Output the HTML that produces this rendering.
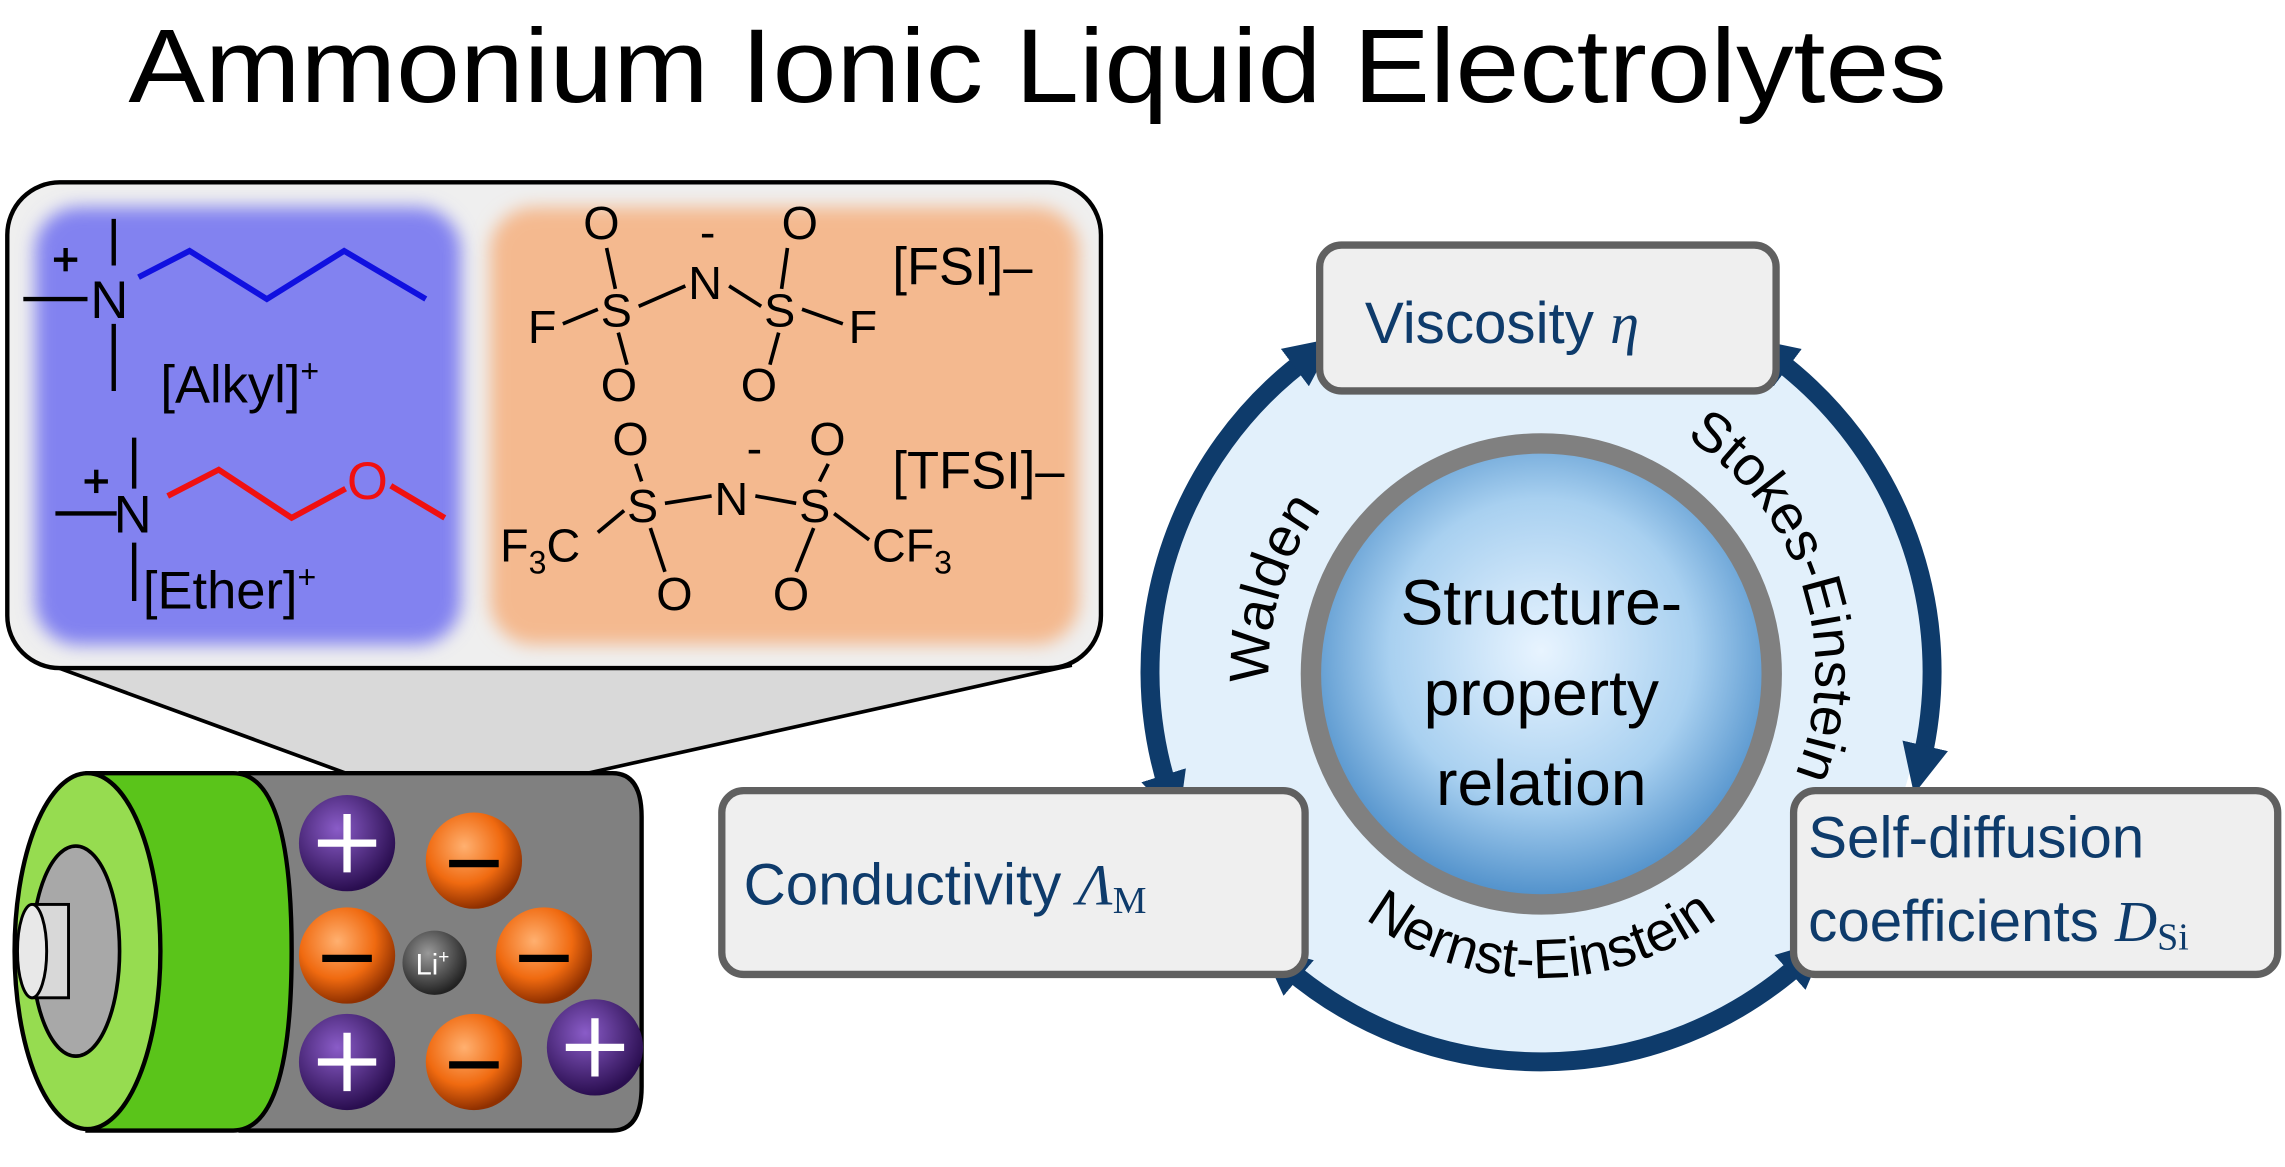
<!DOCTYPE html>
<html><head><meta charset="utf-8"><style>html,body{margin:0;padding:0;background:#fff;}svg{display:block}</style></head>
<body>
<svg width="2285" height="1167" viewBox="0 0 1567 800" preserveAspectRatio="none" xmlns="http://www.w3.org/2000/svg" font-family="'Liberation Sans', sans-serif">
<defs>
<filter id="bl" x="-10%" y="-10%" width="120%" height="120%"><feGaussianBlur stdDeviation="6"/></filter>
<radialGradient id="core" cx="50%" cy="45%" r="55%"><stop offset="0" stop-color="#e8f4ff"/><stop offset="0.6" stop-color="#a8d0f0"/><stop offset="1" stop-color="#4a8cc8"/></radialGradient>
<radialGradient id="pur" cx="40%" cy="35%" r="65%"><stop offset="0" stop-color="#8a5cc8"/><stop offset="1" stop-color="#2a0e50"/></radialGradient>
<radialGradient id="org" cx="40%" cy="35%" r="65%"><stop offset="0" stop-color="#ffb070"/><stop offset="0.6" stop-color="#f06a10"/><stop offset="1" stop-color="#903000"/></radialGradient>
<radialGradient id="li" cx="40%" cy="35%" r="65%"><stop offset="0" stop-color="#999"/><stop offset="1" stop-color="#222"/></radialGradient>
<marker id="ah" markerWidth="36" markerHeight="36" refX="10" refY="18" orient="auto-start-reverse" markerUnits="userSpaceOnUse"><path d="M0,2 L34,18 L0,34 z" fill="#0e3b6b"/></marker>
<path id="pw" d="M920.6,588.2 A188,188 0 0 1 1014.7,276.9"/>
<path id="ps" d="M1096.1,276.1 A188,188 0 0 1 1196.7,585.8"/>
<path id="pn" d="M879.5,562.5 A200,200 0 0 0 1234.5,562.5"/>
</defs>
<text x="88" y="70" font-size="72" fill="#000" textLength="1247" lengthAdjust="spacingAndGlyphs">Ammonium Ionic Liquid Electrolytes</text>

<polygon points="35,456 735,456 300,553" fill="#d9d9d9" stroke="#000" stroke-width="2.5"/>
<rect x="5" y="125" width="750" height="333" rx="36" fill="#efefef" stroke="#000" stroke-width="3"/>
<rect x="24" y="142" width="292" height="300" rx="30" fill="#8282f0" filter="url(#bl)"/>
<rect x="336" y="142" width="404" height="300" rx="30" fill="#f4b98f" filter="url(#bl)"/>

<g stroke="#000" stroke-width="3" fill="none">
<line x1="78" y1="150" x2="78" y2="182"/><line x1="16" y1="205" x2="60" y2="205"/><line x1="78" y1="222" x2="78" y2="268"/>
<line x1="37" y1="178" x2="53" y2="178"/><line x1="45" y1="170" x2="45" y2="186"/>
<line x1="92" y1="300" x2="92" y2="335"/><line x1="38" y1="352" x2="80" y2="352"/><line x1="92" y1="372" x2="92" y2="412"/>
<line x1="58" y1="330" x2="74" y2="330"/><line x1="66" y1="322" x2="66" y2="338"/>
</g>
<polyline points="95,190 130,172 183,205 236,172 292,205" stroke="#1010e0" stroke-width="4" fill="none"/>
<polyline points="115,340 150,322 200,355 237,335" stroke="#f01010" stroke-width="4" fill="none"/>
<polyline points="268,333 305,355" stroke="#f01010" stroke-width="4" fill="none"/>
<g font-size="36" fill="#000">
<text x="62" y="218">N</text><text x="78" y="365">N</text>
<text x="238" y="342" fill="#f01010">O</text>
<text x="110" y="276">[Alkyl]<tspan font-size="22" dy="-14">+</tspan></text>
<text x="98" y="417">[Ether]<tspan font-size="22" dy="-14">+</tspan></text>
</g>

<g font-size="32" fill="#000">
<text x="400" y="164">O</text><text x="412" y="224">S</text><text x="412" y="275">O</text><text x="362" y="235">F</text>
<text x="472" y="205">N</text><text x="480" y="170">-</text>
<text x="536" y="164">O</text><text x="524" y="224">S</text><text x="508" y="275">O</text><text x="582" y="235">F</text>
<text x="612" y="195" font-size="36">[FSI]–</text>
<text x="420" y="312">O</text><text x="430" y="358">S</text><text x="450" y="418">O</text><text x="343" y="385">F<tspan font-size="22" dy="8">3</tspan><tspan dy="-8">C</tspan></text>
<text x="490" y="353">N</text><text x="512" y="318">-</text>
<text x="555" y="312">O</text><text x="548" y="358">S</text><text x="530" y="418">O</text><text x="598" y="385">CF<tspan font-size="22" dy="8">3</tspan></text>
<text x="612" y="335" font-size="36">[TFSI]–</text>
</g>
<g stroke="#000" stroke-width="2.5">
<line x1="386" y1="222" x2="410" y2="212"/><line x1="438" y1="210" x2="470" y2="196"/><line x1="500" y1="196" x2="522" y2="210"/><line x1="550" y1="212" x2="578" y2="222"/>
<line x1="416" y1="170" x2="422" y2="198"/><line x1="424" y1="228" x2="430" y2="250"/><line x1="540" y1="170" x2="536" y2="198"/><line x1="534" y1="228" x2="528" y2="250"/>
<line x1="410" y1="365" x2="428" y2="350"/><line x1="456" y1="345" x2="488" y2="340"/><line x1="518" y1="340" x2="546" y2="345"/><line x1="572" y1="352" x2="596" y2="370"/>
<line x1="436" y1="318" x2="440" y2="330"/><line x1="446" y1="362" x2="456" y2="392"/><line x1="568" y1="318" x2="562" y2="330"/><line x1="558" y1="362" x2="546" y2="392"/>
</g>

<path d="M165,530 L420,530 Q440,530 440,560 L440,745 Q440,775 420,775 L165,775 Z" fill="#808080" stroke="#000" stroke-width="3"/>
<path d="M60,530 L160,530 Q200,530 200,652 Q200,775 160,775 L60,775 Z" fill="#5ac41a" stroke="#000" stroke-width="3"/>
<ellipse cx="60" cy="652" rx="50" ry="122" fill="#96dc50" stroke="#000" stroke-width="3"/>
<ellipse cx="52" cy="652" rx="30" ry="72" fill="#a8a8a8" stroke="#000" stroke-width="2.5"/>
<rect x="22" y="620" width="25" height="64" fill="#d8d8d8" stroke="#000" stroke-width="2"/>
<ellipse cx="22" cy="652" rx="10" ry="32" fill="#e8e8e8" stroke="#000" stroke-width="2"/>
<g stroke-width="5" stroke="#fff">
<circle cx="238" cy="578" r="33" fill="url(#pur)" stroke="none"/><path d="M218,578h40M238,558v40"/>
<circle cx="238" cy="728" r="33" fill="url(#pur)" stroke="none"/><path d="M218,728h40M238,708v40"/>
<circle cx="408" cy="718" r="33" fill="url(#pur)" stroke="none"/><path d="M388,718h40M408,698v40"/>
</g>
<g stroke-width="5" stroke="#000">
<circle cx="325" cy="590" r="33" fill="url(#org)" stroke="none"/><path d="M308,592h34"/>
<circle cx="238" cy="655" r="33" fill="url(#org)" stroke="none"/><path d="M221,657h34"/>
<circle cx="373" cy="655" r="33" fill="url(#org)" stroke="none"/><path d="M356,657h34"/>
<circle cx="325" cy="728" r="33" fill="url(#org)" stroke="none"/><path d="M308,730h34"/>
</g>
<circle cx="298" cy="660" r="22" fill="url(#li)"/>
<text x="285" y="668" font-size="20" fill="#fff">Li<tspan font-size="13" dy="-8">+</tspan></text>

<circle cx="1057" cy="460" r="262" fill="#e2f0fb"/>
<circle cx="1057" cy="462" r="158" fill="url(#core)" stroke="#808080" stroke-width="14"/>
<g font-size="44" fill="#000" text-anchor="middle">
<text x="1057" y="428">Structure-</text><text x="1057" y="490">property</text><text x="1057" y="552">relation</text>
</g>
<g stroke="#0e3b6b" stroke-width="13" fill="none" marker-end="url(#ah)" marker-start="url(#ah)">
<path d="M896,246 A268,268 0 0 0 801,541"/>
<path d="M1218,246 A268,268 0 0 1 1318,521"/>
<path d="M883,664 A268,268 0 0 0 1235,660"/>
</g>
<g font-size="38" fill="#000" text-anchor="middle">
<text><textPath href="#pw" startOffset="50%">Walden</textPath></text>
<text><textPath href="#ps" startOffset="50%">Stokes-Einstein</textPath></text>
<text><textPath href="#pn" startOffset="50%">Nernst-Einstein</textPath></text>
</g>
<rect x="905" y="168" width="313" height="100" rx="15" fill="#efefef" stroke="#606060" stroke-width="5"/>
<rect x="495" y="542" width="400" height="126" rx="15" fill="#efefef" stroke="#606060" stroke-width="5"/>
<rect x="1230" y="542" width="332" height="126" rx="15" fill="#efefef" stroke="#606060" stroke-width="5"/>
<g fill="#0e3b6b" font-size="40">
<text x="936" y="235">Viscosity <tspan font-family="'Liberation Serif', serif" font-style="italic">η</tspan></text>
<text x="510" y="620">Conductivity <tspan font-family="'Liberation Serif', serif" font-style="italic">Λ</tspan><tspan font-family="'Liberation Serif', serif" font-size="26" dy="6">M</tspan></text>
<text x="1240" y="588">Self-diffusion</text>
<text x="1240" y="645">coefficients <tspan font-family="'Liberation Serif', serif" font-style="italic">D</tspan><tspan font-family="'Liberation Serif', serif" font-size="26" dy="6">Si</tspan></text>
</g>
</svg>
</body></html>
